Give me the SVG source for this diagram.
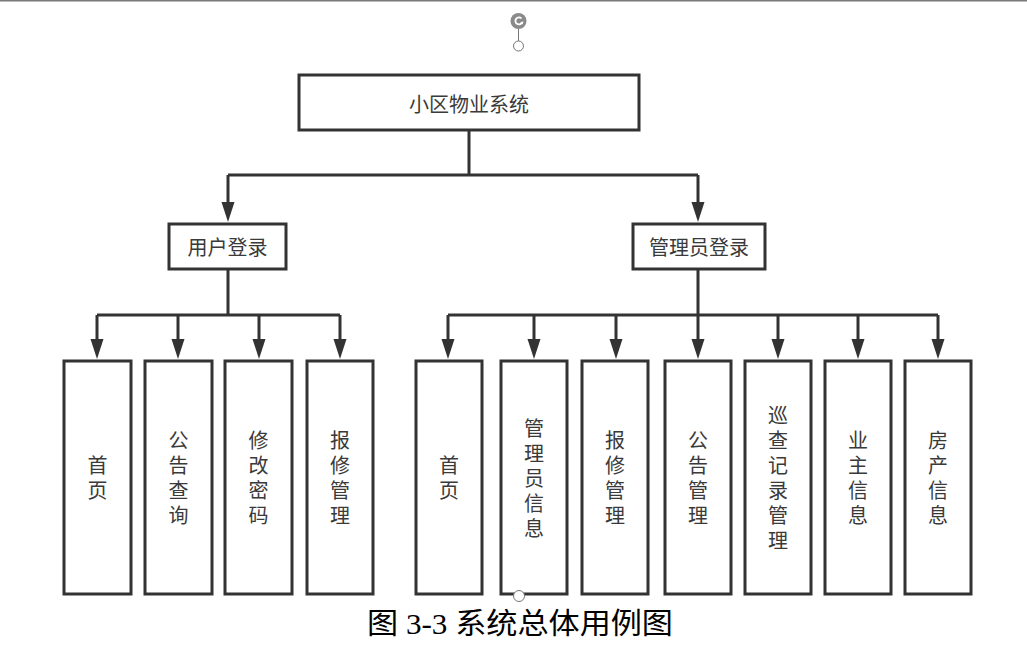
<svg xmlns="http://www.w3.org/2000/svg" width="1027" height="658" viewBox="0 0 1027 658">
<style>
.box{fill:#fff;stroke:#333;stroke-width:3}
.lbl{font-family:"Noto Sans CJK SC","Liberation Sans",sans-serif;font-size:20px;fill:#3a3a3a;text-anchor:middle;dominant-baseline:central}
.vl{font-family:"Noto Sans CJK SC","Liberation Sans",sans-serif;font-size:20px;fill:#3a3a3a;text-anchor:middle;writing-mode:vertical-rl;letter-spacing:5px}
.con{fill:none;stroke:#333;stroke-width:3}
.cap{font-family:"Liberation Serif","Noto Sans CJK SC",serif;font-size:29px;fill:#000;font-weight:400}
.h{fill:#fff;stroke:#777;stroke-width:1}
</style>
<defs>
<marker id="arr" markerUnits="userSpaceOnUse" markerWidth="20" markerHeight="14" viewBox="0 0 20 14" refX="10" refY="7" orient="auto">
<path d="M0,0.5 L20,7 L0,13.5 z" fill="#333"/>
</marker>
</defs>
<rect x="0" y="0" width="1027" height="658" fill="#fff"/>
<line x1="0" y1="0.5" x2="1027" y2="0.5" stroke="#7a7a7a" stroke-width="2"/>

<g id="connectors">
<path class="con" d="M469,130 V175 M228,175 H698"/>
<line class="con" x1="228" y1="175" x2="228" y2="212" marker-end="url(#arr)"/>
<line class="con" x1="698" y1="175" x2="698" y2="212" marker-end="url(#arr)"/>
<path class="con" d="M228,269 V315 M97,315 H340"/>
<line class="con" x1="97" y1="315" x2="97" y2="349" marker-end="url(#arr)"/>
<line class="con" x1="178" y1="315" x2="178" y2="349" marker-end="url(#arr)"/>
<line class="con" x1="259" y1="315" x2="259" y2="349" marker-end="url(#arr)"/>
<line class="con" x1="340" y1="315" x2="340" y2="349" marker-end="url(#arr)"/>
<path class="con" d="M698,269 V315 M448,315 H938"/>
<line class="con" x1="448" y1="315" x2="448" y2="349" marker-end="url(#arr)"/>
<line class="con" x1="534" y1="315" x2="534" y2="349" marker-end="url(#arr)"/>
<line class="con" x1="616" y1="315" x2="616" y2="349" marker-end="url(#arr)"/>
<line class="con" x1="698" y1="315" x2="698" y2="349" marker-end="url(#arr)"/>
<line class="con" x1="778" y1="315" x2="778" y2="349" marker-end="url(#arr)"/>
<line class="con" x1="858" y1="315" x2="858" y2="349" marker-end="url(#arr)"/>
<line class="con" x1="938" y1="315" x2="938" y2="349" marker-end="url(#arr)"/>
</g>

<g id="root">
<rect class="box" x="299" y="75" width="340" height="55"/>
<text class="lbl" x="469" y="103">小区物业系统</text>
</g>
<g id="user-login">
<rect class="box" x="169" y="224" width="117" height="45"/>
<text class="lbl" x="227.5" y="246">用户登录</text>
</g>
<g id="admin-login">
<rect class="box" x="633" y="224" width="132" height="45"/>
<text class="lbl" x="699" y="246">管理员登录</text>
</g>

<g id="u-home">
<rect class="box" x="64" y="361" width="67" height="233"/>
<text class="vl" x="97.5" y="480.5">首页</text>
</g>
<g id="u-notice">
<rect class="box" x="145" y="361" width="67" height="233"/>
<text class="vl" x="178.5" y="480.5">公告查询</text>
</g>
<g id="u-password">
<rect class="box" x="225" y="361" width="67" height="233"/>
<text class="vl" x="258.5" y="480.5">修改密码</text>
</g>
<g id="u-repair">
<rect class="box" x="307" y="361" width="66" height="233"/>
<text class="vl" x="340" y="480.5">报修管理</text>
</g>

<g id="a-home">
<rect class="box" x="416" y="361" width="66" height="233"/>
<text class="vl" x="449" y="480.5">首页</text>
</g>
<g id="a-admin-info">
<rect class="box" x="501" y="361" width="66" height="233"/>
<text class="vl" x="534" y="480.5">管理员信息</text>
</g>
<g id="a-repair">
<rect class="box" x="582" y="361" width="66" height="233"/>
<text class="vl" x="615" y="480.5">报修管理</text>
</g>
<g id="a-notice">
<rect class="box" x="665" y="361" width="66" height="233"/>
<text class="vl" x="698" y="480.5">公告管理</text>
</g>
<g id="a-patrol">
<rect class="box" x="745" y="361" width="66" height="233"/>
<text class="vl" x="778" y="480.5">巡查记录管理</text>
</g>
<g id="a-owner">
<rect class="box" x="825" y="361" width="66" height="233"/>
<text class="vl" x="858" y="480.5">业主信息</text>
</g>
<g id="a-house">
<rect class="box" x="905" y="361" width="66" height="233"/>
<text class="vl" x="938" y="480.5">房产信息</text>
</g>

<g id="handles">
<circle cx="518.5" cy="21" r="8" fill="#8a8a8a"/>
<path d="M521.5,18.5 A3.5,3.5 0 1 0 522,22.5" fill="none" stroke="#fff" stroke-width="1.8"/>
<path d="M520.5,22 L523.5,21.5 L522.5,24.5 z" fill="#fff"/>
<line x1="518.5" y1="29" x2="518.5" y2="41" stroke="#777" stroke-width="1"/>
<circle class="h" cx="518.5" cy="46" r="5"/>
<circle class="h" cx="519" cy="596" r="5.5"/>
</g>

<text class="cap" x="367" y="634" textLength="306" lengthAdjust="spacingAndGlyphs">图 3-3 系统总体用例图</text>
</svg>
